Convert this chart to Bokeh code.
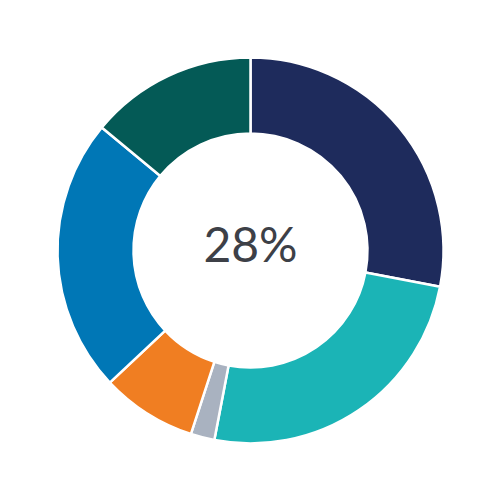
import numpy as np
from bokeh.plotting import figure
from bokeh.models import ColumnDataSource, Range1d
from bokeh.core.properties import value
from bokeh.embed import file_html
from bokeh.resources import INLINE

categories = ["A", "B", "C", "D", "E", "F"]
shares = [28, 25, 2, 8, 23, 14]
colors = ["#1E2B5C", "#1BB4B6", "#A9B2C0", "#F07E22", "#0077B6", "#045A56"]
center_label = "28%"

vals = np.array(shares, dtype=float)
cum = np.concatenate([[0], np.cumsum(vals)]) / vals.sum() * 2 * np.pi
start = np.pi / 2 - cum[:-1]
end = np.pi / 2 - cum[1:]

src = ColumnDataSource(dict(cat=categories, start=start, end=end, color=colors))

W = 484
p = figure(width=W, height=W, output_backend="svg", toolbar_location=None,
           x_range=Range1d(-250, 234), y_range=Range1d(-234, 250),
           min_border=0)
p.axis.visible = False
p.grid.visible = False
p.outline_line_color = None
p.background_fill_color = "white"
p.border_fill_color = "white"

p.annular_wedge(x=0, y=0, inner_radius=117, outer_radius=193,
                start_angle="start", end_angle="end", direction="clock",
                fill_color="color", line_color="white", line_width=2.5,
                source=src)

p.text(x=[0], y=[7], text=[center_label], text_align="center",
       text_baseline="alphabetic", text_font=value("Lato"),
       text_font_size="48px", text_color="#3D4047")

open("out.html", "w").write(file_html(p, INLINE))
